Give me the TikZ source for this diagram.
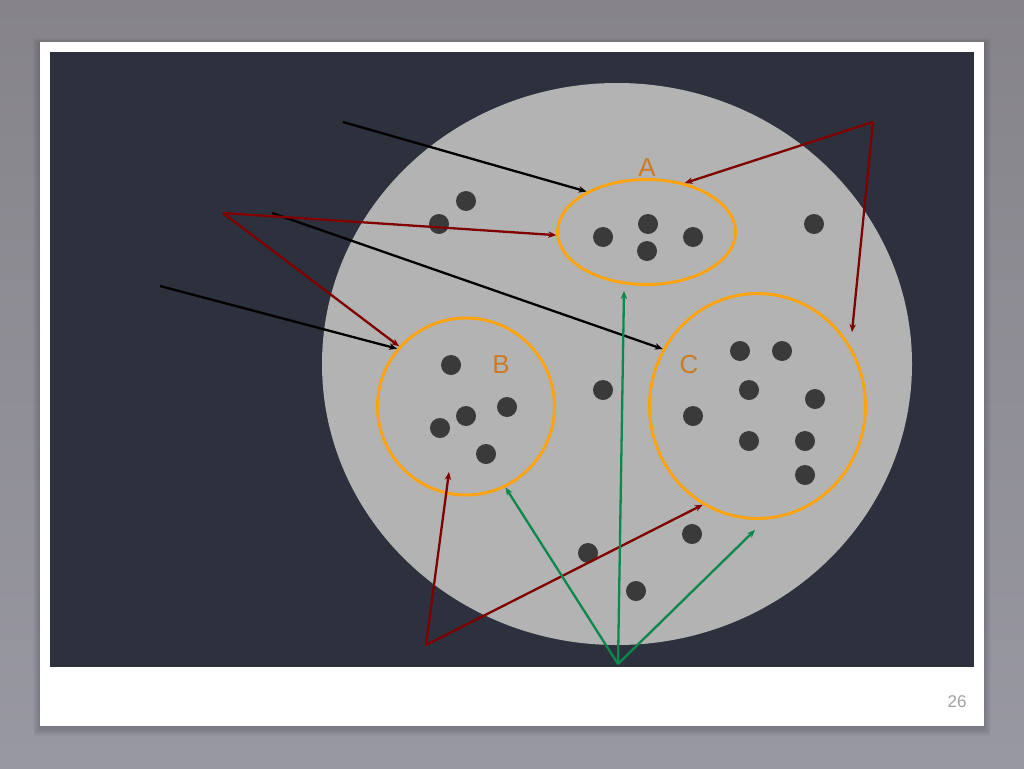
\documentclass[tikz,border=0pt]{standalone}
\usepackage{fontspec}
\setmainfont{Liberation Sans}
\usetikzlibrary{shapes.geometric, arrows.meta, positioning}
\definecolor{bgtop}{RGB}{134,132,138}
\definecolor{bgbot}{RGB}{152,152,162}
\definecolor{panel}{RGB}{45,48,61}
\definecolor{disc}{RGB}{179,179,179}
\definecolor{ringorange}{RGB}{252,163,17}
\definecolor{lblorange}{RGB}{204,122,36}
\definecolor{dotgray}{RGB}{58,58,58}
\definecolor{darkred}{RGB}{128,0,0}
\definecolor{arrgreen}{RGB}{13,135,75}
\definecolor{pggray}{RGB}{160,160,170}
\tikzset{
dot/.style={circle, fill=dotgray, minimum size=20pt, inner sep=0pt}, % the points of the data set
cluster/.style={ellipse, draw=ringorange, line width=3pt, inner sep=0pt}, % the rings round a cluster
lbl/.style={text=lblorange, inner sep=0pt, font=\fontsize{26}{26}\selectfont}, % cluster names
arr/.style={->, >={Stealth[length=8pt, width=6.5pt]}, line width=2.3pt}, % all arrows
blackarr/.style={arr, draw=black},
redarr/.style={arr, draw=darkred},
greenarr/.style={arr, draw=arrgreen},
}
\begin{document}
\begin{tikzpicture}[x=1pt, y=-1pt]
        \useasboundingbox (0,0) rectangle (1024,768);
        % slide
        \shade[top color=bgtop, bottom color=bgbot] (0,0) rectangle (1024,768);
        \foreach \s in {1,...,7}
            \fill[black, opacity=0.025] (40-\s,42-\s+3) rectangle (984+\s,726+\s+3);
        \fill[white] (40,42) rectangle (984,726);
        \fill[panel] (50,52) rectangle (974,667);
        \fill[disc] (617,364) ellipse [x radius=295pt, y radius=281pt];
        
        % clusters
        \node[cluster, minimum width=178pt, minimum height=105pt] (A) at (646.5,232) {};
        \node[cluster, minimum width=177pt, minimum height=177pt] (B) at (466,406.5) {};
        \node[cluster, minimum width=216pt, minimum height=225pt] (C) at (757.5,406) {};
        \node[lbl] (lA) at (647,168) {A};
        \node[lbl] (lB) at (501,365) {B};
        \node[lbl] (lC) at (689,365) {C};
        
        % points
        \foreach \p [count=\i] in {(603,237), (648,224), (647,251), (693,237),
            (466,201), (439,224), (814,224), (603,390), (588,553), (692,534), (636,591),
            (451,365), (507,407), (466,416), (440,428), (486,454),
            (740,351), (782,351), (749,390), (815,399), (693,416), (749,441), (805,441), (805,475)}
            \node[dot] (d\i) at \p {};
        
        % arrow ends
        \coordinate (s1) at (343,122);
        \coordinate (s2) at (272,213);
        \coordinate (s3) at (160,286);
        \coordinate (v1) at (223,213);
        \coordinate (v2) at (873,122);
        \coordinate (v3) at (426,645);
        \coordinate (g) at (618,664);
        \coordinate (tipB) at (449,472);
        \coordinate (tipCr) at (852,332);
        \coordinate (tipA) at (624,291);
        \coordinate (tipCg) at (755,530);
        
        \draw[blackarr] (s1) -- (A.146);
        \draw[blackarr] (s2) -- (C.149);
        \draw[blackarr] (s3) -- (B.140);
        
        \path
        (v1) edge[redarr] (A.182)
        (v1) edge[redarr] (B.138)
        (v2) edge[redarr] (A.52)
        (v2) edge[redarr] (tipCr)
        (v3) edge[redarr] (tipB)
        (v3) edge[redarr] (C.241);
        
        \path
        (g) edge[greenarr] (B.296)
        (g) edge[greenarr] (tipA)
        (g) edge[greenarr] (tipCg);
        
        \node[text=pggray, font=\fontsize{17}{17}\selectfont] (pn) at (957,702) {26};
    \end{tikzpicture}
\end{document}
